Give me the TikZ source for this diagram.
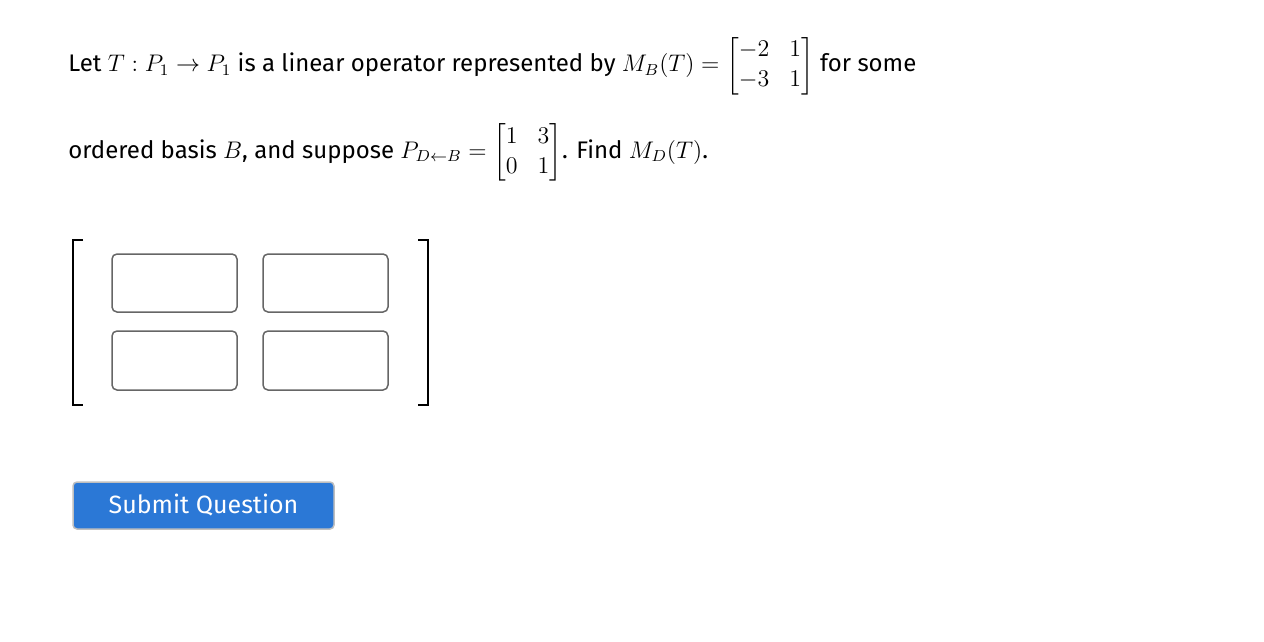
\documentclass[tikz,border=0pt]{standalone}
\usepackage{amsmath}
\usepackage{fontspec}
\setmainfont{Fira Sans}
\definecolor{btn}{HTML}{2B78D6}
\tikzset{txt/.style={anchor=base west,inner sep=0,scale=2,font=\fontsize{12}{15}\selectfont},
ibox/.style={draw=gray!80!black,line width=1.5pt,rounded corners=5pt}}
\begin{document}
\begin{tikzpicture}[x=1pt,y=-1pt]
\useasboundingbox (0,0) rectangle (1264,642);
\node[txt] (l1) at (68,72) {Let $T:P_1\rightarrow P_1$ is a linear operator represented by $M_B(T)=\begin{bmatrix}-2&1\\-3&1\end{bmatrix}$ for some};
\node[txt] (l2) at (68,158) {ordered basis $B$, and suppose $P_{D\leftarrow B}=\begin{bmatrix}1&3\\0&1\end{bmatrix}$. Find $M_D(T)$.};
\draw[line width=1.3pt] (83,240) -- (73,240) -- (73,405) -- (83,405);
\draw[line width=1.3pt] (418,240) -- (428,240) -- (428,405) -- (418,405);
\draw[ibox] (112,254) rectangle (237,312);
\draw[ibox] (263,254) rectangle (388,312);
\draw[ibox] (112,331) rectangle (237,390);
\draw[ibox] (263,331) rectangle (388,390);
\node[draw=gray!50,line width=1.5pt,fill=btn,rounded corners=4pt,minimum width=261pt,minimum height=47pt,text=white,font=\fontsize{25}{30}\selectfont] (b) at (203.5,505.5) {Submit Question};
\end{tikzpicture}
\end{document}
